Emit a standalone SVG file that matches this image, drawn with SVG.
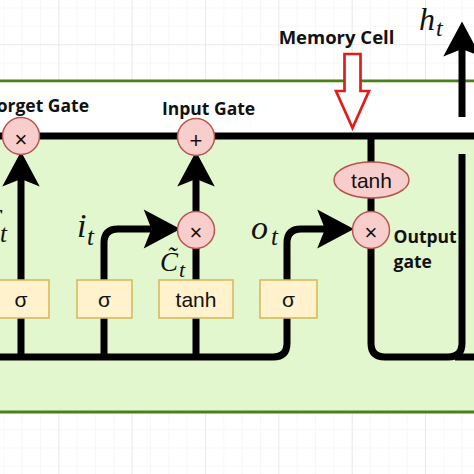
<svg xmlns="http://www.w3.org/2000/svg" width="474" height="474" viewBox="0 0 474 474">
<style>
.lbl{font-family:"Open Sans","Liberation Sans",sans-serif;font-weight:bold;fill:#111}
.fn{font-family:"Liberation Sans",Arial,sans-serif;font-size:21px;fill:#111;text-anchor:middle}
.op{font-family:"Liberation Sans",Arial,sans-serif;font-size:22px;fill:#111;text-anchor:middle}
.math{font-family:"Liberation Serif","Times New Roman",serif;font-style:italic;fill:#111}
.wire{fill:none;stroke:#000;stroke-width:7}
.box{fill:#fff2cc;stroke:#d6b656;stroke-width:1.5}
.gate{fill:#f8cecc;stroke:#b85450;stroke-width:1.5}
</style>
<defs>
<pattern id="minor" width="18.333" height="18.333" patternUnits="userSpaceOnUse" x="3.33" y="7.5">
<path d="M0 0V18.333M0 0H18.333" fill="none" stroke="#efefef" stroke-width="1"/>
</pattern>
<pattern id="major" width="73.333" height="73.333" patternUnits="userSpaceOnUse" x="58.33" y="44.2">
<path d="M0 0V73.333M0 0H73.333" fill="none" stroke="#e2e2e2" stroke-width="1.2"/>
</pattern>
<marker id="av" markerUnits="userSpaceOnUse" orient="auto" markerWidth="40" markerHeight="40" viewBox="-8 -16 32 32" refX="0" refY="0">
<path d="M-6 -15L22 0L-6 15L0 0Z" fill="#000"/>
</marker>
<marker id="ah" markerUnits="userSpaceOnUse" orient="auto" markerWidth="40" markerHeight="40" viewBox="-8 -18 36 36" refX="0" refY="0">
<path d="M-7 -17.5L26 0L-7 17.5L0 0Z" fill="#000"/>
</marker>
</defs>
<rect width="474" height="474" fill="#fff"/>
<rect width="474" height="474" fill="url(#minor)"/>
<rect width="474" height="474" fill="url(#major)"/>
<g id="panel">
<rect x="-10" y="81" width="494" height="331" fill="#e3f7cf" stroke="#4a7f1a" stroke-width="3"/>
<rect x="-10" y="82.5" width="494" height="53.5" fill="#fff"/>
</g>
<g id="connectors">
<path class="wire" d="M0 136H474"/>
<path class="wire" d="M0 357H273Q287 357 287 343V243Q287 229 301 229H325" marker-end="url(#ah)"/>
<path class="wire" d="M21 357V179" marker-end="url(#av)"/>
<path class="wire" d="M104 357V243Q104 229 118 229H151.5" marker-end="url(#ah)"/>
<path class="wire" d="M196 357V179" marker-end="url(#av)"/>
<path class="wire" d="M371 136V343Q371 357 385 357H448Q462 357 462 343V154"/>
<path class="wire" d="M455 357H474"/>
<path class="wire" d="M462 117V49" marker-end="url(#av)"/>
</g>
<g id="memory-cell-arrow">
<path d="M344.5 54H360.5V91H369L352.5 128L336 91H344.5Z" fill="#fff" stroke="#e31b1b" stroke-width="2.7" stroke-linejoin="miter"/>
<text class="lbl" x="336.5" y="44" font-size="18.5" text-anchor="middle">Memory Cell</text>
</g>
<g id="forget-gate">
<circle class="gate" cx="21" cy="136" r="18.5"/>
<text class="op" x="21" y="146.5">×</text>
<text class="lbl" x="89" y="112" font-size="17.5" text-anchor="end">Forget Gate</text>
</g>
<g id="input-gate">
<circle class="gate" cx="196" cy="137" r="18.5"/>
<text class="op" x="196" y="147.5">+</text>
<text class="lbl" x="162" y="115" font-size="17.5">Input Gate</text>
</g>
<g id="input-mult">
<circle class="gate" cx="196" cy="230" r="18.5"/>
<text class="op" x="196" y="239.5">×</text>
</g>
<g id="output-mult">
<circle class="gate" cx="371" cy="230" r="18.5"/>
<text class="op" x="371" y="239.5">×</text>
<text class="lbl" x="393.5" y="243" font-size="17.5">Output</text>
<text class="lbl" x="393.5" y="268" font-size="17.5">gate</text>
</g>
<g id="tanh-cell">
<ellipse class="gate" cx="371.5" cy="180" rx="37.5" ry="18"/>
<text class="fn" x="371.5" y="187.5">tanh</text>
</g>
<g id="sigma-f">
<rect class="box" x="-7" y="280" width="56" height="38"/>
<text class="fn" x="21" y="307">σ</text>
</g>
<g id="sigma-i">
<rect class="box" x="77" y="280" width="55" height="38"/>
<text class="fn" x="104.5" y="307">σ</text>
</g>
<g id="tanh-c">
<rect class="box" x="159" y="280" width="74" height="38"/>
<text class="fn" x="196" y="307">tanh</text>
</g>
<g id="sigma-o">
<rect class="box" x="260" y="280" width="57" height="38"/>
<text class="fn" x="288.5" y="307">σ</text>
</g>
<g id="math-labels">
<text class="math" x="-11" y="234" font-size="34">f</text>
<text class="math" x="0" y="242" font-size="25">t</text>
<text class="math" x="77" y="237" font-size="34">i</text>
<text class="math" x="87" y="245" font-size="25">t</text>
<text class="math" x="251" y="239" font-size="34">o</text>
<text class="math" x="271" y="245" font-size="25">t</text>
<text class="math" x="160" y="271" font-size="27">C̃</text>
<text class="math" x="179" y="277" font-size="22">t</text>
<text class="math" x="419" y="30" font-size="32">h</text>
<text class="math" x="436" y="36" font-size="24">t</text>
</g>
</svg>
